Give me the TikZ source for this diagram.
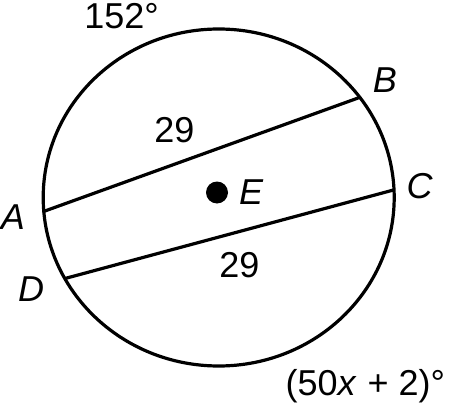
\documentclass[tikz,border=0pt]{standalone}
\usepackage{fontspec}
\setmainfont{Liberation Sans}
\usetikzlibrary{positioning}
\tikzset{
    every picture/.style={
        x=1pt,y=-1pt,line width=3.2pt,line cap=round,
        every node/.style={inner sep=0pt,font=\fontsize{36}{42}\selectfont},
        dot/.style={circle,fill,minimum size=22pt},
        vertex/.style={font=\fontsize{36}{42}\selectfont\itshape}
    }
}

\begin{document}
\begin{tikzpicture}
    \useasboundingbox (0,0) rectangle (450,404);
    \coordinate (O) at (218.7,197.5);
    \draw (O) ellipse [x radius=175.5,y radius=168.5];
    \coordinate (A) at (43.5,211.5);
    \coordinate (B) at (359.5,97.5);
    \coordinate (C) at (393.5,190);
    \coordinate (D) at (65,278.5);
    \draw (A) -- (B);
    \draw (D) -- (C);
    \node[dot]    (E)  at (217,192.5) {};
    \node[vertex] (e)  [right=8pt of E] {E};
    \node[vertex] (a)  at (13,217.5)  {A};
    \node[vertex] (b)  at (385,80)    {B};
    \node[vertex] (c)  at (419.5,186.5) {C};
    \node[vertex] (d)  at (31,289.5)  {D};
    \node (ab)  at (174.5,130.5) {29};
    \node (dc)  at (239.5,265)   {29};
    \node (arcAB) at (121.5,16)  {152°};
    \node[anchor=base west] (arcDC) at (284,395) {(50\textit{x}\kern1pt{} + 2)°};
\end{tikzpicture}
\end{document}
